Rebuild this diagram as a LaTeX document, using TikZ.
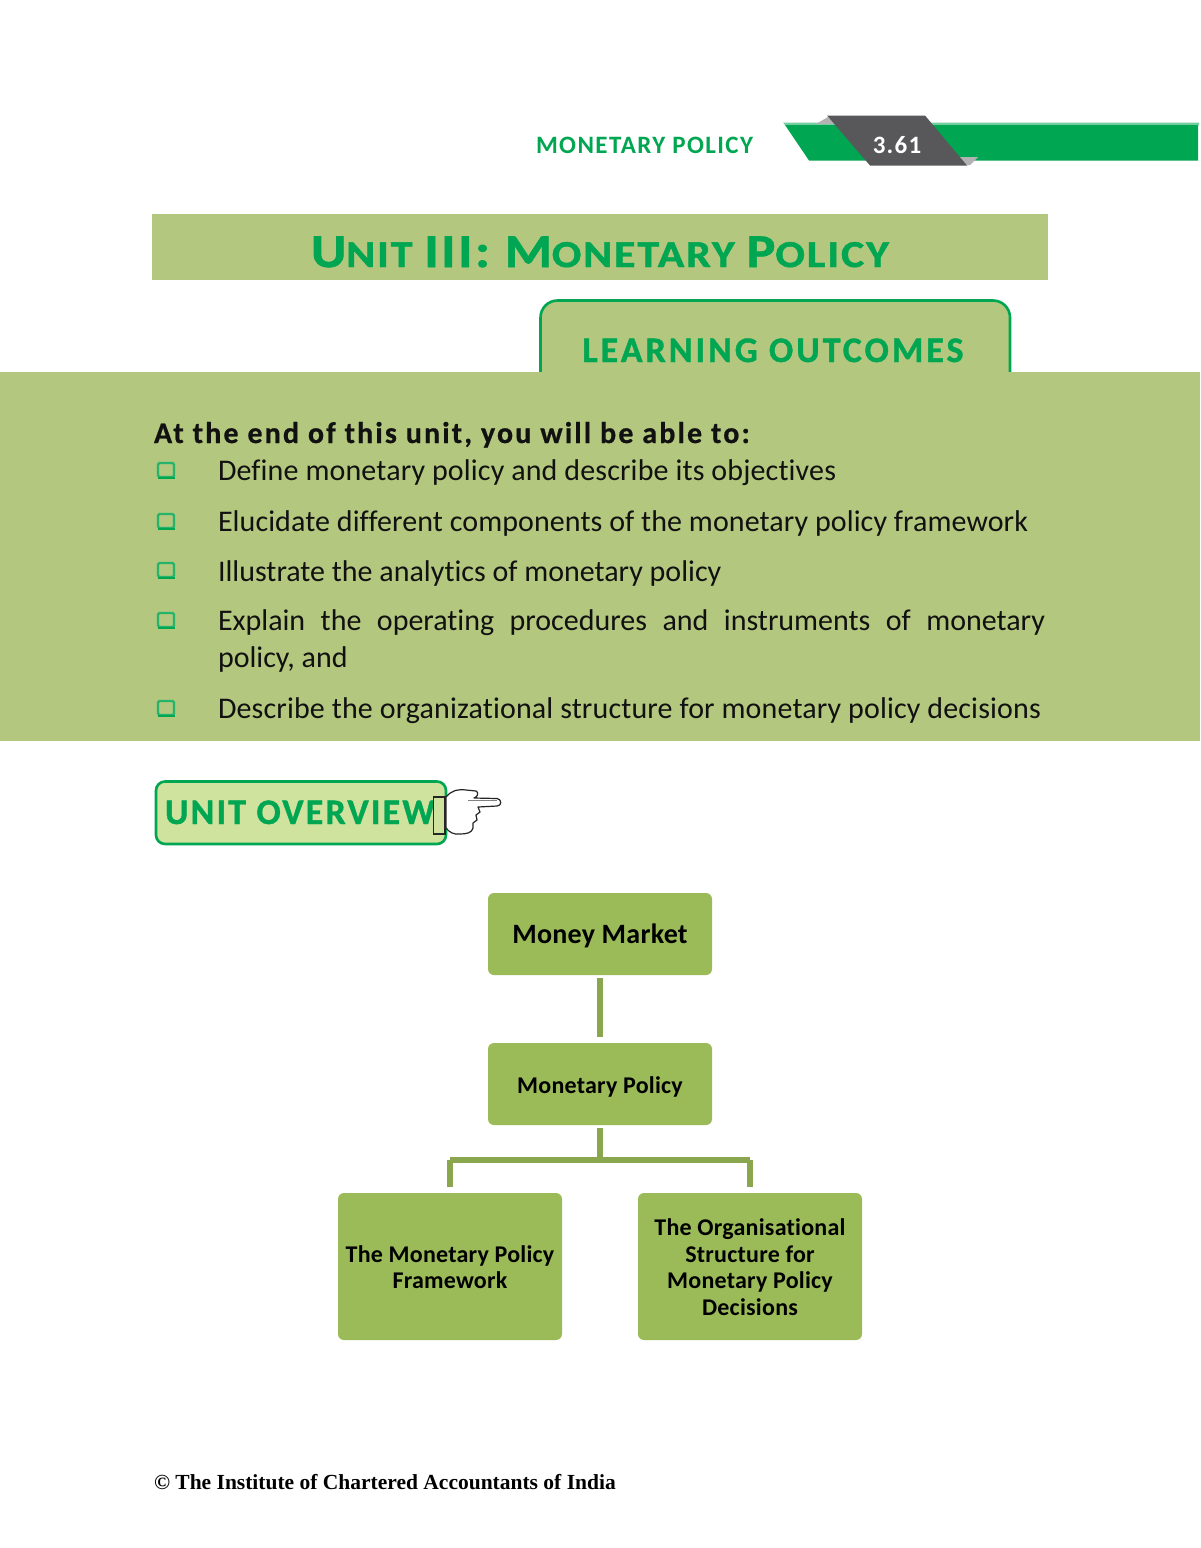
\documentclass[tikz,border=0pt]{standalone}
\usepackage{fontspec}
\usepackage{graphicx}
\setmainfont[Ligatures=NoCommon]{Carlito}
\newfontfamily\serifft{Liberation Serif}
\definecolor{brandgreen}{HTML}{00A651}
\definecolor{band}{HTML}{B3C77E}
\definecolor{boxgreen}{HTML}{9BBB59}
\definecolor{linkgreen}{HTML}{8AA64F}
\definecolor{ovfill}{HTML}{CFE29E}
\definecolor{tabgrey}{HTML}{58585A}
\definecolor{lightgrey}{HTML}{B2B2B4}
\definecolor{txt}{HTML}{111111}
\newcommand{\fs}[1]{\fontsize{#1}{#1}\selectfont}
\newcommand{\spc}[2]{\addfontfeature{LetterSpace=#1,FakeBold=#2}}
\tikzset{
  x=1pt,y=-1pt,
  txtnode/.style={inner sep=0pt,outer sep=0pt,anchor=base west,text=txt},
  flowbox/.style={fill=boxgreen,rounded corners=6pt,minimum width=224pt,inner sep=0pt,outer sep=0pt,
     align=center,text=black,font=\bfseries\fs{24}\addfontfeature{LetterSpace=1}},
  link/.style={draw=linkgreen,line width=6pt,xshift=.8pt},
  tick/.style={draw=brandgreen!85!white,line width=2.2pt,rounded corners=1.5pt},
}
\begin{document}
\begin{tikzpicture}
\useasboundingbox (0,0) rectangle (1200,1548);
\fill[white] (0,0) rectangle (1200,1548);
% header
\node[txtnode,text=brandgreen,font=\bfseries\fs{25}\spc{5.6}{0}] (hdr) at (536,153) {MONETARY POLICY};
\fill[brandgreen!55!white] (783,122.5) -- (1199,122.5) -- (1199,125) -- (785,125) -- cycle;
\fill[brandgreen] (785,125) -- (1198,125) -- (1198,160.5) -- (809,160.5) -- cycle;
\fill[lightgrey] (816,124) -- (828,117) -- (836,124) -- cycle;
\fill[lightgrey] (960,157) -- (978,157) -- (970,165) -- (960,165) -- cycle;
\fill[tabgrey] (827,115.5) -- (925,115.5) -- (967,165.5) -- (870,165.5) -- cycle;
\node[inner sep=0pt,text=white,font=\bfseries\fs{25}\spc{5}{0}] (pg) at (897,145) {3.61};
% title
\fill[band] (152,213.5) rectangle (1048,280);
\node[inner sep=0pt,anchor=base,text=brandgreen,font=\bfseries\spc{4.6}{1.2}] (title) at (600,267)
  {\scalebox{1.15}[1]{\fs{47}U\fs{38}NIT \fs{47}III: M\fs{38}ONETARY \fs{47}P\fs{38}OLICY}};
% learning outcomes tab
\filldraw[draw=brandgreen,fill=band,line width=2.6pt,rounded corners=17pt]
  (540.5,376) -- (540.5,300.5) -- (1010,300.5) -- (1010,376);
\node[inner sep=0pt,anchor=base,text=brandgreen,font=\bfseries\fs{36}\spc{8.3}{1}] (lo) at (773,362) {LEARNING OUTCOMES};
% band
\fill[band] (0,371.5) rectangle (1200,741);
\node[txtnode,font=\bfseries\fs{30}\spc{7.1}{.6}] (lead) at (154,443) {At the end of this unit, you will be able to:};
\foreach \n/\y in {a/462,b/513,c/562,d/612,e/700}{
  \draw[tick] (158,\y+1) rectangle (174,\y+15);
  \draw[brandgreen,line width=2pt] (158,\y+16) -- (175,\y+16);
}
\node[txtnode,font=\fs{30}\addfontfeature{LetterSpace=.5}] (i1) at (218,480) {Define monetary policy and describe its objectives};
\node[txtnode,font=\fs{30}\addfontfeature{LetterSpace=.3}] (i2) at (218,531) {Elucidate different components of the monetary policy framework};
\node[txtnode,font=\fs{30}] (i3) at (218,581) {Illustrate the analytics of monetary policy};
\node[txtnode,font=\fs{30}] (i4) at (218,630) {\makebox[827pt][s]{Explain\hfill the\hfill operating\hfill procedures\hfill and\hfill instruments\hfill of\hfill monetary}};
\node[txtnode,font=\fs{30}] (i4b) at (218,667) {policy, and};
\node[txtnode,font=\fs{30}\addfontfeature{LetterSpace=.5}] (i5) at (218,718) {Describe the organizational structure for monetary policy decisions};
% unit overview
\filldraw[draw=brandgreen,fill=ovfill,line width=2.6pt,rounded corners=9pt] (156,781.5) rectangle (446,844);
\node[txtnode,text=brandgreen,font=\bfseries\fs{36}\spc{6}{1}] (ov) at (165,824) {UNIT OVERVIEW};
% hand
\filldraw[draw=black!85,fill=white,line width=1.2pt,line join=round]
  (446,797) .. controls (452,790) and (458,789) .. (466,790)
  -- (476,791) .. controls (479,792) and (478,797) .. (474,798)
  -- (497,798.5) .. controls (502,799) and (502,806) .. (497,806)
  -- (478,807) -- (480,812) -- (476,815) -- (477,820) -- (473,823) -- (473,828)
  .. controls (472,833) and (466,834) .. (460,834)
  .. controls (454,835) and (449,832) .. (446,828) -- cycle;
\draw[black!50,line width=1pt] (468,800) -- (497,800);
\filldraw[draw=black!85,fill=ovfill,line width=1.6pt] (433.5,797) rectangle (445,834);
% flow
\node[flowbox,minimum height=82pt,font=\bfseries\fs{28}\addfontfeature{LetterSpace=1}] (mm) at (600,934) {\rule{0pt}{24pt}Money Market};
\node[flowbox,minimum height=82pt] (mp) at (600,1084) {\rule{0pt}{22pt}Monetary Policy};
\node[flowbox,minimum height=147pt] (fw) at (450,1266.5) {\rule{0pt}{18pt}The Monetary Policy\\[2.5pt]Framework};
\node[flowbox,minimum height=147pt] (os) at (750,1266.5) {\rule{0pt}{18pt}The Organisational\\[2.5pt]Structure for\\[2.5pt]Monetary Policy\\[2.5pt]Decisions};
\coordinate (j) at (600,1160);
\draw[link,shorten <=3pt,shorten >=6pt] (mm.south) -- (mp.north);
\draw[link,shorten <=3pt] (mp.south) -- (j);
\draw[link,shorten >=6pt] (fw.north |- j) -- (fw.north);
\draw[link,shorten >=6pt] (os.north |- j) -- (os.north);
\draw[link,line cap=square] (fw.north |- j) -- (os.north |- j);
% footer
\node[txtnode,text=black,font=\serifft\bfseries\fs{21.5}] (foot) at (154,1489) {© The Institute of Chartered Accountants of India};
\end{tikzpicture}
\end{document}
